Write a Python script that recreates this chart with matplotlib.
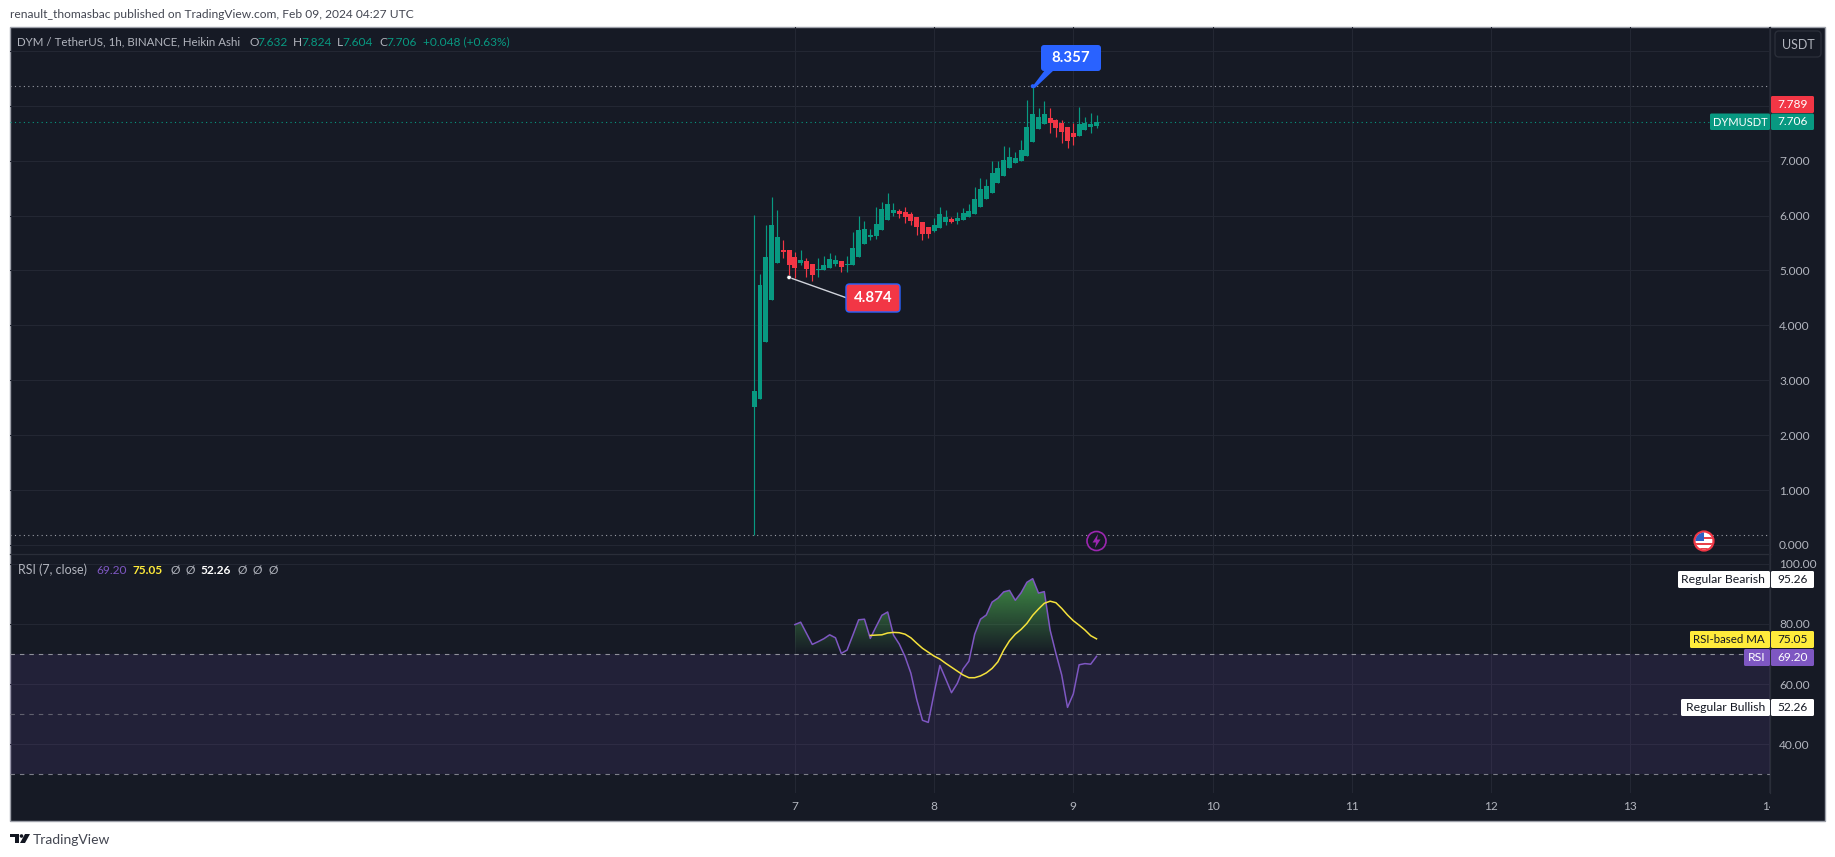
import numpy as np
import matplotlib
matplotlib.use("Agg")
import matplotlib.pyplot as plt
from matplotlib.patches import Rectangle, FancyBboxPatch, Polygon, Circle, PathPatch
from matplotlib.path import Path
from matplotlib.transforms import Bbox

plt.rcParams['font.family'] = ['Lato', 'DejaVu Sans']

# Heikin Ashi candles, hours since Feb 7 00:00
bar_hour = list(range(-7, 53))
candle_open = [2.51, 2.66, 3.70, 4.46, 5.14, 5.37, 5.37, 5.25, 5.14, 5.17, 5.12, 5.01, 5.01, 5.05, 5.12,
               5.17, 5.10, 5.10, 5.25, 5.48, 5.61, 5.63, 5.74, 5.92, 6.05, 6.08, 6.07, 6.03, 5.97, 5.88,
               5.79, 5.72, 5.77, 5.88, 5.94, 5.90, 5.92, 5.97, 6.03, 6.16, 6.30, 6.41, 6.59, 6.72, 6.87,
               6.96, 6.99, 7.09, 7.34, 7.58, 7.67, 7.78, 7.74, 7.69, 7.61, 7.50, 7.45, 7.56, 7.61, 7.632]
candle_close = [2.81, 4.74, 5.25, 5.83, 5.61, 5.34, 5.10, 5.05, 5.19, 5.03, 4.92, 5.03, 5.10, 5.21, 5.19,
                5.06, 5.12, 5.41, 5.74, 5.76, 5.65, 5.85, 6.12, 6.21, 6.10, 6.03, 5.97, 5.90, 5.79, 5.66,
                5.66, 5.83, 6.03, 5.97, 5.88, 5.96, 6.05, 6.08, 6.30, 6.48, 6.54, 6.78, 6.87, 7.01, 7.07,
                7.05, 7.19, 7.61, 7.85, 7.80, 7.85, 7.69, 7.60, 7.52, 7.36, 7.43, 7.67, 7.69, 7.67, 7.706]
candle_high = [6.01, 4.94, 5.83, 6.34, 6.10, 5.56, 5.37, 5.34, 5.37, 5.23, 5.12, 5.23, 5.26, 5.32, 5.28,
               5.17, 5.26, 5.70, 5.99, 5.90, 5.76, 6.16, 6.25, 6.41, 6.23, 6.12, 6.16, 6.07, 5.97, 5.88,
               5.79, 5.96, 6.16, 6.10, 5.97, 6.07, 6.14, 6.21, 6.52, 6.68, 6.67, 7.00, 7.00, 7.27, 7.25,
               7.16, 7.38, 8.11, 8.357, 7.96, 8.09, 7.96, 7.76, 7.74, 7.61, 7.69, 7.98, 7.80, 7.87, 7.824]
candle_low = [0.18, 2.66, 3.70, 4.46, 5.14, 5.23, 4.874, 4.86, 5.10, 4.88, 4.81, 4.88, 5.01, 5.05, 5.08,
              4.97, 4.97, 5.10, 5.25, 5.48, 5.56, 5.57, 5.74, 5.92, 5.99, 5.96, 5.87, 5.83, 5.65, 5.56,
              5.59, 5.70, 5.77, 5.83, 5.87, 5.85, 5.92, 5.97, 6.03, 6.16, 6.30, 6.41, 6.59, 6.72, 6.87,
              6.96, 6.99, 7.09, 7.34, 7.58, 7.67, 7.50, 7.43, 7.32, 7.23, 7.29, 7.45, 7.56, 7.50, 7.604]

# RSI starts at hour 0, its MA at hour 13
rsi_hour = list(range(0, 53))
rsi_value = [79.8, 80.6, 76.9, 73.2, 74.1, 75.1, 76.4, 75.4, 70.2, 71.3, 76.3, 81.4, 81.6, 75.2, 79.1, 82.9,
             84.0, 76.3, 73.3, 69.1, 63.6, 54.9, 47.9, 47.2, 56.9, 66.2, 61.7, 57.1, 60.2, 65.0, 67.6, 76.6,
             81.6, 83.0, 87.3, 88.6, 90.7, 91.2, 87.9, 90.4, 93.9, 95.1, 90.3, 90.8, 78.0, 70.2, 63.0, 52.2,
             56.7, 66.4, 66.8, 66.6, 69.2]
ma_hour = list(range(13, 53))
ma_value = [76.2, 76.3, 76.4, 77.0, 77.2, 77.1, 76.6, 75.4, 73.6, 71.9, 70.6, 69.3, 68.3, 66.9, 65.6, 64.3,
            63.0, 62.1, 62.1, 62.7, 63.7, 65.2, 67.4, 71.3, 74.4, 76.6, 78.2, 80.2, 82.9, 85.0, 86.9, 87.6,
            87.1, 85.2, 83.0, 81.1, 79.6, 78.0, 76.1, 75.05]

price_ticks = [0, 1, 2, 3, 4, 5, 6, 7, 8, 9]
price_tick_labels = ['0.000', '1.000', '2.000', '3.000', '4.000', '5.000', '6.000', '7.000', '', '']
rsi_ticks = [40, 60, 80, 100]
rsi_tick_labels = ['40.00', '60.00', '80.00', '100.00']
day_ticks = [0, 24, 48, 72, 96, 120, 144, 168]
day_labels = ['7', '8', '9', '10', '11', '12', '13', '14']
rsi_bands = [70, 50, 30]

BG = '#161a25'
GRID = '#232733'
SCALE_LINE = '#2a2e39'
GREEN = '#089981'
RED = '#f23645'
BLUE = '#2962ff'
TXT = '#b2b5be'
PURPLE = '#7e57c2'
YELLOW = '#ffeb3b'
NUM = 8.6

W, H = 1835, 857
fig = plt.figure(figsize=(W / 100, H / 100), dpi=100, facecolor='white')


def axes_px(x0, y0, x1, y1):
    return fig.add_axes([x0 / W, 1 - y1 / H, (x1 - x0) / W, (y1 - y0) / H])


# frame behind both panes
fig.add_artist(Rectangle((10 / W, 1 - 821 / H), 1815 / W, 794 / H, transform=fig.transFigure,
                         facecolor=BG, edgecolor='#9ea1aa', lw=1, zorder=-1))

ax_p = axes_px(10, 27, 1770, 554)
ax_r = axes_px(10, 554, 1770, 793)
for ax in (ax_p, ax_r):
    ax.patch.set_visible(False)
    ax.set_xlim(-135.3, 168.1)
    ax.set_axisbelow(True)
    ax.set_xticks(day_ticks)
    ax.grid(True, color=GRID, lw=0.8)
    ax.yaxis.tick_right()
    ax.tick_params(axis='both', length=0, labelsize=NUM, labelcolor=TXT)
    ax.tick_params(axis='y', pad=6.5)
    for side in ('left', 'top'):
        ax.spines[side].set_visible(False)
    for side in ('right', 'bottom'):
        ax.spines[side].set_color(SCALE_LINE)
        ax.spines[side].set_linewidth(0.9)
ax_r.spines['bottom'].set_visible(False)

# price pane
ax_p.set_ylim(-0.164, 9.435)
ax_p.set_yticks(price_ticks)
ax_p.set_yticklabels(price_tick_labels)
ax_p.tick_params(axis='x', labelbottom=False)

o = np.array(candle_open)
c = np.array(candle_close)
colors = [GREEN if c_ >= o_ else RED for o_, c_ in zip(o, c)]
ax_p.vlines(bar_hour, candle_low, candle_high, colors=colors, lw=0.85, zorder=3)
ax_p.bar(bar_hour, np.abs(c - o), bottom=np.minimum(o, c), width=0.84, color=colors, lw=0, zorder=4)

dots = (0, (1, 3))
ax_p.axhline(max(candle_high), color='#9a9da6', lw=0.8, ls=dots, zorder=2)
ax_p.axhline(min(candle_low), color='#9a9da6', lw=0.8, ls=dots, zorder=2)
ax_p.axhline(candle_close[-1], color=GREEN, lw=0.8, ls=dots, zorder=2)

# rsi pane
ax_r.set_ylim(23.67, 103.33)
ax_r.set_yticks(rsi_ticks)
ax_r.set_yticklabels(rsi_tick_labels)
ax_r.set_xticklabels(day_labels)
ax_r.tick_params(axis='x', pad=6)
ax_r.axhspan(min(rsi_bands), max(rsi_bands), color=PURPLE, alpha=0.12, lw=0, zorder=1)
band_colors = ['#8f909a', '#5f5f6d', '#7c7d88']
for lvl, col in zip(rsi_bands, band_colors):
    ax_r.axhline(lvl, color=col, lw=0.8, ls=(0, (4, 4.5)), zorder=2)

# green gradient above 70, clipped to the area under the rsi line
area = ax_r.fill_between(rsi_hour, rsi_value, 70, where=np.array(rsi_value) >= 70, interpolate=True,
                         facecolor='none', lw=0)
clip = PathPatch(Path.make_compound_path(*area.get_paths()), transform=ax_r.transData, fc='none', lw=0)
ax_r.add_patch(clip)
grad = np.zeros((256, 1, 4))
grad[:, 0, 0] = 76 / 255
grad[:, 0, 1] = 175 / 255
grad[:, 0, 2] = 80 / 255
grad[:, 0, 3] = np.linspace(0.8, 0, 256)
img = ax_r.imshow(grad, extent=[0, 52, 70, 96], aspect='auto', zorder=2, interpolation='bilinear')
img.set_clip_path(clip)
ax_r.set_xlim(-135.3, 168.1)
ax_r.set_ylim(23.67, 103.33)

ax_r.plot(rsi_hour, rsi_value, color=PURPLE, lw=1.1, zorder=5)
ax_r.plot(ma_hour, ma_value, color='#f5e23c', lw=1.1, zorder=6)

# chrome on top, in pixels of the picture
ui = fig.add_axes([0, 0, 1, 1], zorder=5)
ui.set_xlim(0, W)
ui.set_ylim(H, 0)
ui.axis('off')


def box(x0, y0, x1, y1, color, r=1.5, edge='none', lw=0, z=10):
    p = FancyBboxPatch((x0 + r, y0 + r), x1 - x0 - 2 * r, y1 - y0 - 2 * r,
                       boxstyle=f'round,pad={r},rounding_size={r}', fc=color, ec=edge, lw=lw, zorder=z)
    ui.add_patch(p)


def label(x, y, s, color=TXT, size=9.0, ha='left', weight='normal', z=12):
    return ui.text(x, y, s, color=color, fontsize=size, ha=ha, va='center', fontweight=weight, zorder=z)


def data_px(ax, x, y):
    px = ax.transData.transform((x, y))
    return ui.transData.inverted().transform(px)


# top and bottom captions
label(10, 14.5, 'renault_thomasbac published on TradingView.com, Feb 09, 2024 04:27 UTC', '#434651', 8.65)
label(33, 840, 'TradingView', '#434651', 10)
ui.add_patch(Polygon([(10, 834), (19, 834), (19, 843), (14.5, 843), (14.5, 837), (10, 837)], fc='#131722', lw=0))
ui.add_patch(Circle((21.5, 836), 1.8, fc='#131722', lw=0))
ui.add_patch(Polygon([(25, 834), (30, 834), (25, 843), (20, 843)], fc='#131722', lw=0))

# price legend
label(17, 42, 'DYM / TetherUS, 1h, BINANCE, Heikin Ashi', size=8.3)
for x, s, col in [(249, 'O', TXT), (257, '7.632', GREEN), (293, 'H', TXT), (301, '7.824', GREEN),
                  (337, 'L', TXT), (342, '7.604', GREEN), (379, 'C', TXT), (386, '7.706', GREEN),
                  (423, '+0.048 (+0.63%)', GREEN)]:
    label(x, 42, s, col, NUM)

# rsi legend
label(18, 570, 'RSI (7, close)')
for x, s, col, wt in [(96, '69.20', PURPLE, 'normal'), (132, '75.05', YELLOW, 'bold'), (170, 'Ø', TXT, 'normal'),
                      (185, 'Ø', TXT, 'normal'), (200, '52.26', 'white', 'bold'), (237, 'Ø', TXT, 'normal'),
                      (252, 'Ø', TXT, 'normal'), (268, 'Ø', TXT, 'normal')]:
    label(x, 570, s, col, NUM, weight=wt)

# USDT button
box(1775, 31, 1821, 57, BG, r=4, edge=SCALE_LINE, lw=1)
label(1798, 44.5, 'USDT', TXT, 9.0, ha='center')

# scale tags: left tag, value tag
for y0, y1, col, value in [(96, 113, RED, '7.789'), (113.5, 130, GREEN, '7.706')]:
    box(1771, y0, 1814, y1, col)
    label(1792.5, (y0 + y1) / 2, value, 'white', NUM, ha='center')
box(1710, 113.5, 1770, 130, GREEN)
label(1740, 122, 'DYMUSDT', 'white', 8.0, ha='center')

tags = [(1678, 571, 588, 'white', '#131722', 'Regular Bearish', '95.26', 8.8),
        (1690, 631, 648, YELLOW, '#131722', 'RSI-based MA', '75.05', 8.3),
        (1744, 649, 666, PURPLE, 'white', 'RSI', '69.20', 8.8),
        (1681, 699, 716, 'white', '#131722', 'Regular Bullish', '52.26', 8.8)]
for x0, y0, y1, col, tcol, name, value, fs in tags:
    box(x0, y0, 1770, y1, col)
    box(1771, y0, 1814, y1, col)
    label(1765, (y0 + y1) / 2, name, tcol, fs, ha='right')
    label(1792.5, (y0 + y1) / 2, value, tcol, NUM, ha='center')

# high balloon
hi_i = int(np.argmax(candle_high))
tip = data_px(ax_p, bar_hour[hi_i], candle_high[hi_i])
box(1041, 45, 1101, 71, BLUE, r=3)
ui.add_patch(Polygon([tip, (1045, 70), (1054, 70), (tip[0] + 2, tip[1] + 2)], fc=BLUE, lw=0, zorder=10))
ui.add_patch(Circle(tip, 2, fc=BLUE, lw=0, zorder=10))
label(1071, 58, '8.357', 'white', 10.8, ha='center', weight='bold')

# low label
lo_pt = data_px(ax_p, bar_hour[6], candle_low[6])
ui.plot([lo_pt[0], 847], [lo_pt[1], 298], color='#d1d4dc', lw=1, zorder=9)
ui.add_patch(Circle(lo_pt, 2.2, fc='white', ec='#131722', lw=0.4, zorder=11))
box(846, 284, 900, 312, RED, r=3.5, edge=BLUE, lw=1)
label(873, 298, '4.874', 'white', 10.8, ha='center', weight='bold')

# event icons
ui.add_patch(Circle((1096.5, 541), 9.5, fc=BG, ec='#9c27b0', lw=1.2, zorder=8))
ui.add_patch(Polygon([(1098, 534), (1092.5, 542.5), (1096, 542.5), (1095, 548), (1100.5, 539.5), (1097, 539.5)],
                     fc='#9c27b0', lw=0, zorder=9))

flag_edge = Circle((1704, 541), 9.5, fc='white', ec=RED, lw=1.6, zorder=8)
ui.add_patch(flag_edge)
for y0 in [537, 542.5, 548]:
    stripe = Rectangle((1694, y0), 20, 2.2, fc='#e8404a', lw=0, zorder=9)
    ui.add_patch(stripe)
    stripe.set_clip_path(Circle((1704, 541), 8.5, transform=ui.transData))
canton = Rectangle((1694, 531), 10, 10, fc='#2f5fc4', lw=0, zorder=10)
ui.add_patch(canton)
canton.set_clip_path(Circle((1704, 541), 8.5, transform=ui.transData))

# day 14 is cut by the price scale
ax_r.get_xticklabels()[-1].set_clip_box(ui.transData.transform_bbox(Bbox([[10, 857], [1770, 793]])))
ax_r.get_xticklabels()[-1].set_clip_on(True)

fig.savefig('out.png', dpi=100, facecolor='white')
